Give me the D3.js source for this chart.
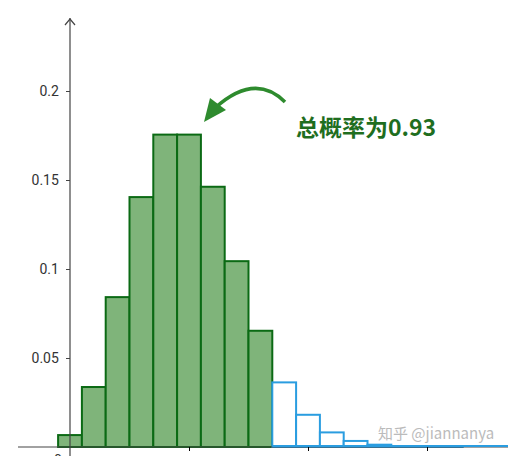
<!DOCTYPE html><html><head><meta charset="utf-8"><script src="https://cdn.jsdelivr.net/npm/d3@7"></script>
<style>body{margin:0;background:#fff}</style></head><body><svg id="c" width="508" height="456"></svg><script>
const ks=[0,1,2,3,4,5,6,7,8,9,10,11,12,13,14,15,16];
const probs=[0.0067,0.0337,0.0842,0.1404,0.1755,0.1755,0.1462,0.1044,0.0653,0.0363,0.0181,0.0082,0.0034,0.0013,0.0005,0.0002,0.0001];
const cutoff=8;
const yTicks=[0.05,0.1,0.15,0.2];
const xTicks=[0,5,10,15];
const svg=d3.select("#c");
const x=d3.scaleLinear().domain([0,10]).range([70,308]);
const y=d3.scaleLinear().domain([0,0.2]).range([447,91]);
svg.selectAll("rect").data(ks).join("rect")
 .attr("x",k=>x(k-0.5)).attr("width",x(1)-x(0)).attr("y",(k,i)=>y(probs[i])).attr("height",(k,i)=>y(0)-y(probs[i]))
 .attr("fill",k=>k<=cutoff?"#7fb47a":"#fff").attr("stroke",k=>k<=cutoff?"#0b6a14":"#2a9de0").attr("stroke-width",2);
// x axis
svg.append("line").attr("x1",18).attr("x2",508).attr("y1",447).attr("y2",447).attr("stroke","#444").attr("stroke-width",1.2);
svg.append("line").attr("x1",x(cutoff+0.5)).attr("x2",508).attr("y1",446).attr("y2",446).attr("stroke","#2a9de0").attr("stroke-width",2);
const xa=svg.append("g").attr("transform","translate(0,447)").call(d3.axisBottom(x).tickValues(xTicks.slice(1)).tickSize(4).tickFormat(d3.format("d")));
xa.select(".domain").remove();
xa.selectAll("text").attr("font-family","Roboto").attr("font-size",14).attr("fill","#333").attr("dy","0.9em");
svg.append("text").attr("x",58).attr("y",465).attr("font-family","Roboto").attr("font-size",14).attr("fill","#333").attr("text-anchor","middle").text(xTicks[0]);
// y axis
const ya=svg.append("g").attr("transform","translate(70,0)").call(d3.axisLeft(y).tickValues(yTicks).tickSize(4).tickFormat(d=>String(d)));
ya.select(".domain").remove();
ya.selectAll("text").attr("font-family","Roboto").attr("font-size",14).attr("fill","#333").attr("dx","-0.3em");
ya.selectAll("line").attr("stroke","#444");
svg.append("line").attr("x1",70).attr("x2",70).attr("y1",18).attr("y2",456).attr("stroke","#444").attr("stroke-width",1.2);
svg.append("path").attr("d","M65,25 L70,19 L75,25").attr("fill","none").attr("stroke","#444").attr("stroke-width",1.2);
// annotation
svg.append("path").attr("d","M285,102 Q255,72 215,108").attr("fill","none").attr("stroke","#2e8b2e").attr("stroke-width",3.5);
svg.append("path").attr("d","M204,122 L210,98 L226,110 Z").attr("fill","#2e8b2e");
svg.append("text").attr("x",296).attr("y",136).attr("font-family","Noto Sans CJK SC").attr("font-weight","bold").attr("font-size",23).attr("fill","#1f6e1f").text("总概率为0.93");
svg.append("text").attr("x",378).attr("y",439).attr("font-family","Noto Sans CJK SC").attr("font-size",15).attr("fill","#bbb").text("知乎 @jiannanya");
</script></body></html>
